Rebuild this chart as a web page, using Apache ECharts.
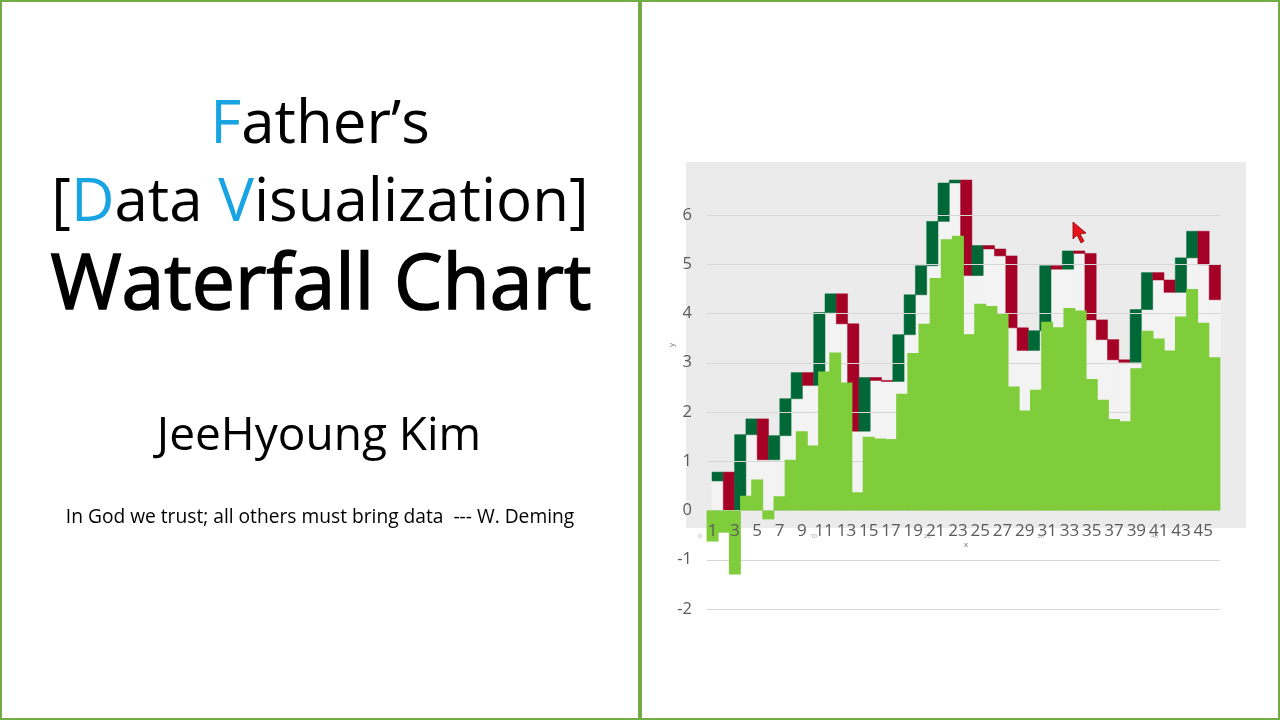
<!DOCTYPE html>
<html>
<head>
<meta charset="utf-8">
<script src="https://cdn.jsdelivr.net/npm/echarts@6/dist/echarts.min.js"></script>
<style>
html,body{margin:0;padding:0;background:#ffffff;}
#main{width:1280px;height:720px;}
</style>
</head>
<body>
<div id="main"></div>
<script>
// ---- data ----
const categories = ['1','2','3','4','5','6','7','8','9','10','11','12','13','14','15','16','17','18','19','20','21','22','23','24','25','26','27','28','29','30','31','32','33','34','35','36','37','38','39','40','41','42','43','44','45','46'];
const barValues = [-0.63,-0.45,-1.30,0.30,0.63,-0.18,0.29,1.03,1.61,1.32,2.82,3.21,2.60,0.37,1.50,1.46,1.45,2.37,3.20,3.79,4.72,5.51,5.58,3.58,4.20,4.15,3.99,2.52,2.03,2.45,3.83,3.72,4.11,4.06,2.67,2.25,1.86,1.81,2.89,3.65,3.49,3.25,3.94,4.50,3.81,3.11];
const waterfallLevels = [0.60,0.78,0.00,1.54,1.86,1.03,1.52,2.27,2.80,2.54,4.02,4.40,3.79,1.61,2.70,2.64,2.62,3.57,4.38,4.97,5.87,6.65,6.71,4.77,5.38,5.31,5.17,3.71,3.25,3.65,4.97,4.90,5.27,5.22,3.87,3.47,3.06,3.01,4.08,4.83,4.68,4.43,5.13,5.67,4.99,4.28];
const yMin = -2, yMax = 6, yInterval = 1;
const ghostXTicks = ['0','10','20','30','40'];

// ---- styles ----
const FONT = '"Open Sans", "Noto Sans", sans-serif';
const BLUE = '#18a3e2';
const BORDER = '#70ad47';
const UP = '#006837', DOWN = '#a50026', BAR = '#7fcd3a';

const steps = waterfallLevels.slice(1).map((v, k) => [k + 1, waterfallLevels[k], v]);
const bases = steps.map(s => [s[0], 0, Math.min(s[1], s[2])]);
const barData = barValues.map((v, i) => [i, v]);

function boxItem(params, api, fillFn) {
  const i = api.value(0), a = api.value(1), b = api.value(2);
  const p1 = api.coord([i, Math.max(a, b)]);
  const p2 = api.coord([i + 1, Math.min(a, b)]);
  const f = fillFn(a, b);
  return {
    type: 'rect',
    shape: { x: p1[0], y: p1[1], width: p2[0] - p1[0], height: p2[1] - p1[1] },
    style: { fill: f, stroke: f, lineWidth: 0.5 }
  };
}
function barItem(params, api) {
  const idx = api.value(0), v = api.value(1);
  const base = api.coord([idx, 0]);
  const top = api.coord([idx, v]);
  const w = api.size([1, 0])[0];
  return {
    type: 'rect',
    shape: { x: base[0] - w / 2 - 0.4, y: Math.min(base[1], top[1]), width: w + 0.8, height: Math.abs(base[1] - top[1]) },
    style: { fill: BAR }
  };
}

function txt(text, x, y, size, extraStyle) {
  return {
    type: 'text', z: 20,
    style: Object.assign({
      text: text, x: x, y: y,
      fontSize: size, fontFamily: FONT, fill: '#000',
      align: 'center', verticalAlign: 'middle'
    }, extraStyle || {})
  };
}
function richTitle(text, x, y, size) {
  const t = txt(text, x, y, size);
  t.style.rich = {
    b: { fill: BLUE, fontSize: size, fontFamily: FONT },
    n: { fill: '#000', fontSize: size, fontFamily: FONT }
  };
  return t;
}

const chart = echarts.init(document.getElementById('main'), null, { renderer: 'canvas' });

const graphics = [
  // panel frames
  { type: 'rect', z: 30, shape: { x: 1, y: 1, width: 638, height: 718 }, style: { fill: 'none', stroke: BORDER, lineWidth: 2 } },
  { type: 'rect', z: 30, shape: { x: 641, y: 1, width: 638, height: 718 }, style: { fill: 'none', stroke: BORDER, lineWidth: 2 } },
  // grey plot panel
  { type: 'rect', z: 0, shape: { x: 686, y: 162, width: 560, height: 366 }, style: { fill: '#ebebeb' } },
  // titles
  richTitle('{b|F}{n|ather’s}', 320, 126, 60),
  richTitle('{n|[}{b|D}{n|ata }{b|V}{n|isualization]}', 320, 204, 60),
  txt('Waterfall Chart', 321, 287, 77, { stroke: '#000', lineWidth: 1.6 }),
  txt('JeeHyoung Kim', 319, 437, 46),
  txt('In God we trust; all others must bring data  --- W. Deming', 320, 518, 19.2),
  // faint axis titles
  { type: 'text', z: 20, style: { text: 'x', x: 966, y: 545, fontSize: 8, fontFamily: FONT, fill: '#777', align: 'center', verticalAlign: 'middle' } },
  { type: 'text', z: 20, rotation: Math.PI / 2, x: 672, y: 345, style: { text: 'y', fontSize: 8, fontFamily: FONT, fill: '#777', align: 'center', verticalAlign: 'middle' } },
  // mouse pointer
  { type: 'polygon', z: 40, shape: { points: [[1073,222],[1073,239],[1077,235],[1081,243],[1084,241],[1080,234],[1086,233]] }, style: { fill: '#e8141b', stroke: '#8a0000', lineWidth: 0.8 } }
];
ghostXTicks.forEach((t, k) => {
  graphics.push({ type: 'text', z: 20, style: { text: t, x: 700 + k * 113.6, y: 536, fontSize: 6, fontFamily: FONT, fill: '#999', align: 'center', verticalAlign: 'middle' } });
});

chart.setOption({
  animation: false,
  backgroundColor: '#ffffff',
  grid: [
    { left: 707, top: 215, width: 513, height: 394 },
    { left: 700.7, top: 215, width: 519.8, height: 394 }
  ],
  xAxis: [
    {
      type: 'category', gridIndex: 0, data: categories, z: 10,
      offset: -98.5,
      axisLine: { show: false, onZero: false }, axisTick: { show: false },
      axisLabel: { interval: 1, margin: 12, fontSize: 17, color: '#5a5a5a', fontFamily: FONT },
      splitLine: { show: false }
    },
    { type: 'value', gridIndex: 1, min: 0, max: 46, show: false }
  ],
  yAxis: [
    {
      type: 'value', gridIndex: 0, min: yMin, max: yMax, interval: yInterval, z: 3,
      axisLine: { show: false }, axisTick: { show: false },
      axisLabel: { margin: 15, fontSize: 16.5, color: '#5a5a5a', fontFamily: FONT },
      splitLine: { lineStyle: { color: '#d6d6d6', width: 1.2 } }
    },
    { type: 'value', gridIndex: 1, min: yMin, max: yMax, show: false }
  ],
  series: [
    {
      type: 'custom', name: 'base', xAxisIndex: 1, yAxisIndex: 1, z: 1, clip: false,
      encode: { x: 0, y: [1, 2] },
      renderItem: (p, api) => boxItem(p, api, () => '#f3f3f3'),
      data: bases
    },
    {
      type: 'custom', name: 'waterfall', xAxisIndex: 1, yAxisIndex: 1, z: 2, clip: false,
      encode: { x: 0, y: [1, 2] },
      renderItem: (p, api) => boxItem(p, api, (a, b) => (b >= a ? UP : DOWN)),
      data: steps
    },
    {
      type: 'custom', name: 'value', xAxisIndex: 0, yAxisIndex: 0, z: 4, clip: false,
      encode: { x: 0, y: 1 },
      renderItem: barItem,
      data: barData
    }
  ],
  graphic: graphics
});
</script>
</body>
</html>
